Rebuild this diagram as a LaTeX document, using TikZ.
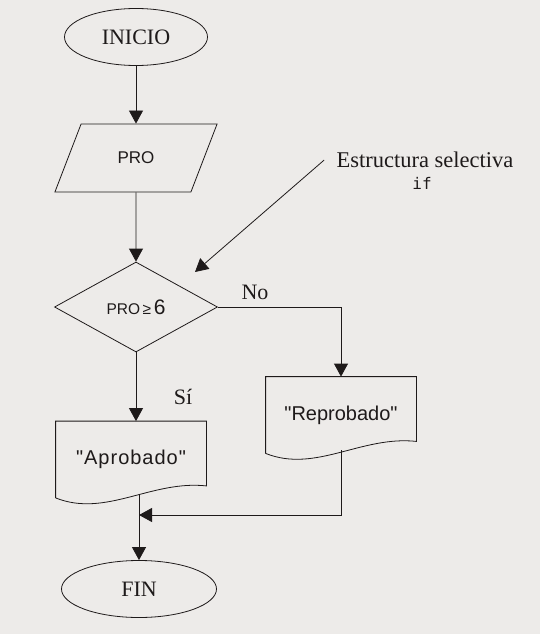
\documentclass[tikz,border=0pt]{standalone}
\usepackage{fontspec}
\setmainfont{Liberation Serif}
\setsansfont{Liberation Sans}
\setmonofont{DejaVu Sans Mono}
\newfontfamily\docfont{Liberation Sans}
\usepackage{tikz}
\usetikzlibrary{shapes.geometric}
\usetikzlibrary{arrows.meta}
\definecolor{paper}{HTML}{EDEBE9}
\definecolor{ink}{HTML}{1E1A1A}

\begin{document}
\begin{tikzpicture}[x=1pt,y=-1pt,color=ink,line width=0.8pt,
    flecha/.style={-{Triangle[length=13pt,width=14pt]}},
    terminal/.style={ellipse,draw,minimum height=57pt,font=\fontsize{22}{26}\selectfont},
    entrada/.style={trapezium,draw,trapezium left angle=61,trapezium right angle=119,
      trapezium stretches=true,minimum width=163pt,minimum height=68pt,
      font=\sffamily\fontsize{17}{20}\selectfont},
    decision/.style={diamond,draw,aspect=2,inner sep=0pt,minimum width=163pt,
      minimum height=90pt,font=\sffamily\fontsize{15.5}{18}\selectfont},
    documento/.style={inner sep=0pt,minimum width=150pt,minimum height=76pt,
      font=\docfont\fontsize{20}{24}\selectfont},
    rotulo/.style={font=\fontsize{22}{26}\selectfont}]
    \path[fill=paper] (0,0) rectangle (540,634);
    \node[terminal,minimum width=143pt] (inicio) at (136,37) {INICIO};
    \node[entrada] (pro) at (136,158) {PRO};
    \node[decision] (dec) at (136,307) {PRO\,≥\,{\fontsize{21}{21}\selectfont 6}};
    \node[documento] (apro) at (131,459.5) {\addfontfeature{LetterSpace=5}"Aprobado"};
    \node[documento] (repro) at (341,415) {"Reprobado"};
    \node[terminal,minimum width=155pt] (fin) at (139,589) {FIN};
    \foreach \d in {apro,repro}
      \draw (\d.south west) -- (\d.north west) -- (\d.north east)
        -- ([yshift=12pt]\d.south east)
        .. controls ([xshift=-55pt,yshift=18pt]\d.south east)
        and ([xshift=50pt,yshift=-20pt]\d.south west) .. (\d.south west);
    \draw[flecha] (inicio) -- (pro);
    \draw[flecha] (pro.south) -- (dec.north);
    \draw[flecha] (dec.south) -- (dec.south |- apro.north);
    \draw[flecha] (dec.east) -| (repro.north);
    \node[rotulo] (no) at (255,292) {No};
    \node[rotulo] (si) at (183,397) {Sí};
    % salida de los documentos
    \coordinate (salida) at ([yshift=3pt]apro.south);
    \coordinate (baja) at ([yshift=3pt]repro.south);
    \coordinate (union) at (139,515);
    \draw[flecha] (salida -| fin.north) -- (fin.north);
    \draw[flecha] (baja) |- (union);
    % nota
    \node[rotulo,font=\fontsize{22.5}{26}\selectfont,inner xsep=12pt] (sel) at (425,160) {Estructura selectiva};
    \node[font=\ttfamily\fontsize{16}{19}\selectfont] (if) at (422,183) {if};
    \coordinate (punta) at (195,272);
    \draw[flecha] (sel.west) -- (punta);
\end{tikzpicture}
\end{document}
